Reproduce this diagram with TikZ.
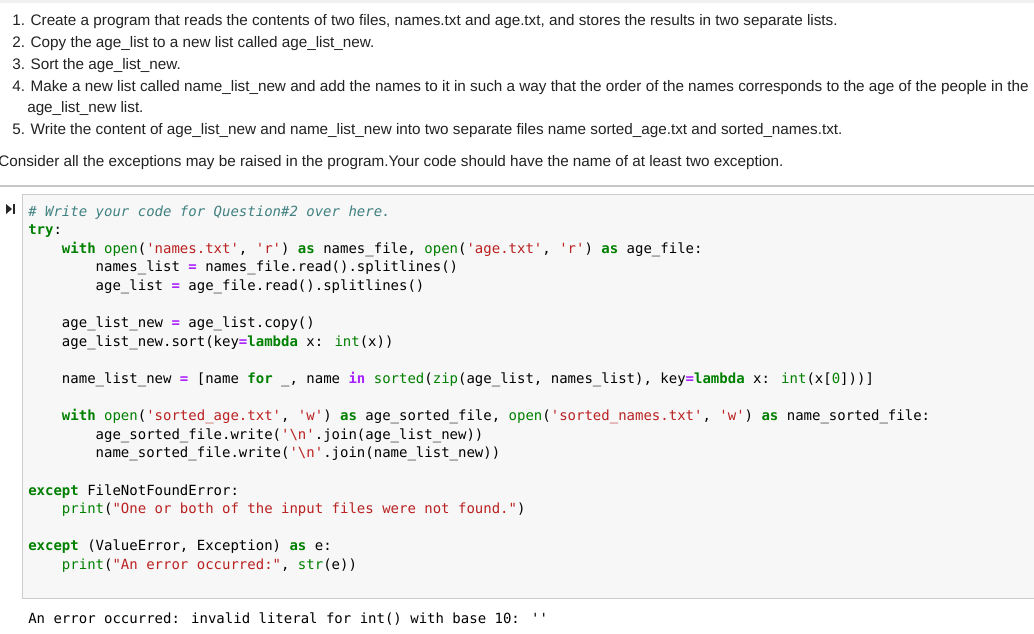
\documentclass[tikz,border=0pt]{standalone}
\usepackage{fontspec}
\setmainfont{Liberation Sans}
\newfontfamily\code{DejaVu Sans Mono}
\definecolor{kwc}{HTML}{008000}
\definecolor{stc}{HTML}{BA2121}
\definecolor{opc}{HTML}{AA22FF}
\definecolor{cmc}{HTML}{408080}
\definecolor{txc}{HTML}{222222}
\newcommand\Kw[1]{\textcolor{kwc}{\bfseries #1}}
\newcommand\Bi[1]{\textcolor{kwc}{#1}}
\newcommand\Sq[1]{\textcolor{stc}{#1}}
\newcommand\Op[1]{\textcolor{opc}{\bfseries #1}}
\newcommand\Cm[1]{\textcolor{cmc}{\itshape #1}}
\newcommand\Nm[1]{\textcolor{kwc}{#1}}
\newcommand\bs{\textbackslash}
\begin{document}
\begin{tikzpicture}[x=0.75pt,y=-0.75pt,
  txt/.style={anchor=base west,inner sep=0pt,text=txc,font=\fontsize{11.45}{13}\selectfont},
  cl/.style={anchor=base west,inner sep=0pt,font=\code\fontsize{10.5}{12}\selectfont}]
\useasboundingbox[fill=white] (0,0) rectangle (1034,633);
\fill[black!6] (0,0) rectangle (1034,3);
\node[txt] (l1) at (12,25) {1. Create a program that reads the contents of two files, names.txt and age.txt, and stores the results in two separate lists.};
\node[txt] (l2) at (12,47) {2. Copy the age\_list to a new list called age\_list\_new.};
\node[txt] (l3) at (12,69) {3. Sort the age\_list\_new.};
\node[txt] (l4) at (12,91) {4. Make a new list called name\_list\_new and add the names to it in such a way that the order of the names corresponds to the age of the people in the};
\node[txt] (l4b) at (27,112) {age\_list\_new list.};
\node[txt] (l5) at (12,134) {5. Write the content of age\_list\_new and name\_list\_new into two separate files name sorted\_age.txt and sorted\_names.txt.};
\node[txt] (l6) at (-2,166) {Consider all the exceptions may be raised in the program.Your code should have the name of at least two exception.};
\fill[black!22] (0,185) rectangle (1034,187);
\draw[draw=black!20,fill=black!3] (22.5,194.5) rectangle (1040,598.5);
\fill[black!85] (6,204) -- (12,209) -- (6,214) -- cycle;
\fill[black!85] (12.5,204) rectangle (14.5,214);
\begin{scope}[yshift=-1.5pt]
\node[cl] (c1) at (28,214) {\Cm{\# Write your code for Question\#2 over here.}};
\node[cl] (c2) at (28,232.6) {\Kw{try}:};
\node[cl] (c3) at (28,251.2) {\phantom{xxxx}\Kw{with} \Bi{open}(\Sq{'names.txt'}, \Sq{'r'}) \Kw{as} names\_file, \Bi{open}(\Sq{'age.txt'}, \Sq{'r'}) \Kw{as} age\_file:};
\node[cl] (c4) at (28,269.8) {\phantom{xxxxxxxx}names\_list \Op{=} names\_file.read().splitlines()};
\node[cl] (c5) at (28,288.4) {\phantom{xxxxxxxx}age\_list \Op{=} age\_file.read().splitlines()};
\node[cl] (c7) at (28,325.6) {\phantom{xxxx}age\_list\_new \Op{=} age\_list.copy()};
\node[cl] (c8) at (28,344.2) {\phantom{xxxx}age\_list\_new.sort(key\Op{=}\Kw{lambda} x: \Bi{int}(x))};
\node[cl] (c10) at (28,381.4) {\phantom{xxxx}name\_list\_new \Op{=} [name \Kw{for} \_, name \Op{in} \Bi{sorted}(\Bi{zip}(age\_list, names\_list), key\Op{=}\Kw{lambda} x: \Bi{int}(x[\Nm{0}]))]};
\node[cl] (c12) at (28,418.6) {\phantom{xxxx}\Kw{with} \Bi{open}(\Sq{'sorted\_age.txt'}, \Sq{'w'}) \Kw{as} age\_sorted\_file, \Bi{open}(\Sq{'sorted\_names.txt'}, \Sq{'w'}) \Kw{as} name\_sorted\_file:};
\node[cl] (c13) at (28,437.2) {\phantom{xxxxxxxx}age\_sorted\_file.write(\Sq{'\bs n'}.join(age\_list\_new))};
\node[cl] (c14) at (28,455.8) {\phantom{xxxxxxxx}name\_sorted\_file.write(\Sq{'\bs n'}.join(name\_list\_new))};
\node[cl] (c16) at (28,493) {\Kw{except} FileNotFoundError:};
\node[cl] (c17) at (28,511.6) {\phantom{xxxx}\Bi{print}(\Sq{"One or both of the input files were not found."})};
\node[cl] (c19) at (28,548.8) {\Kw{except} (ValueError, Exception) \Kw{as} e:};
\node[cl] (c20) at (28,567.4) {\phantom{xxxx}\Bi{print}(\Sq{"An error occurred:"}, \Bi{str}(e))};
\node[cl] (out) at (28,621) {An error occurred: invalid literal for int() with base 10: ''};
\end{scope}
\end{tikzpicture}
\end{document}
